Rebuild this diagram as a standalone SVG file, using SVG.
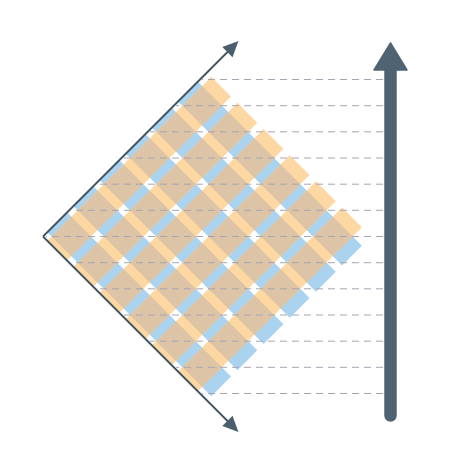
<svg xmlns="http://www.w3.org/2000/svg" width="474" height="474" viewBox="0 0 474 474">
<style>
.o{fill:#FDD8A2}
.b{fill:#AAD3F0}
.m{fill:#DDC4A6}
.d{stroke:#a6a6b2;stroke-width:1;stroke-dasharray:7 5;fill:none}
.ax{stroke:#3f5260;stroke-width:1.8;fill:none}
.big{fill:#4f6373}
</style>
<defs>
<marker id="ah" markerUnits="userSpaceOnUse" markerWidth="20" markerHeight="20" viewBox="-16 -8 18 16" refX="-5" refY="0" orient="auto">
<path d="M0,0 L-14,-6.5 L-14,6.5 Z" fill="#4a5e6d"/>
</marker>
</defs>
<rect width="474" height="474" fill="#ffffff"/>
<g id="lattice" transform="translate(43,236.5) rotate(-45)">
<g id="blue-strips">
<rect class="b" x="6" y="0" width="28" height="232"/>
<rect class="b" x="43" y="0" width="28" height="232"/>
<rect class="b" x="80" y="0" width="28" height="232"/>
<rect class="b" x="117" y="0" width="28" height="232"/>
<rect class="b" x="154" y="0" width="28" height="232"/>
<rect class="b" x="191" y="0" width="28" height="232"/>
</g>
<g id="orange-strips">
<rect class="o" x="0" y="6" width="232" height="28"/>
<rect class="o" x="0" y="43" width="232" height="28"/>
<rect class="o" x="0" y="80" width="232" height="28"/>
<rect class="o" x="0" y="117" width="232" height="28"/>
<rect class="o" x="0" y="154" width="232" height="28"/>
<rect class="o" x="0" y="191" width="232" height="28"/>
</g>
<g id="overlaps">
<rect class="m" x="6" y="6" width="28" height="28"/><rect class="m" x="43" y="6" width="28" height="28"/><rect class="m" x="80" y="6" width="28" height="28"/><rect class="m" x="117" y="6" width="28" height="28"/><rect class="m" x="154" y="6" width="28" height="28"/><rect class="m" x="191" y="6" width="28" height="28"/>
<rect class="m" x="6" y="43" width="28" height="28"/><rect class="m" x="43" y="43" width="28" height="28"/><rect class="m" x="80" y="43" width="28" height="28"/><rect class="m" x="117" y="43" width="28" height="28"/><rect class="m" x="154" y="43" width="28" height="28"/><rect class="m" x="191" y="43" width="28" height="28"/>
<rect class="m" x="6" y="80" width="28" height="28"/><rect class="m" x="43" y="80" width="28" height="28"/><rect class="m" x="80" y="80" width="28" height="28"/><rect class="m" x="117" y="80" width="28" height="28"/><rect class="m" x="154" y="80" width="28" height="28"/><rect class="m" x="191" y="80" width="28" height="28"/>
<rect class="m" x="6" y="117" width="28" height="28"/><rect class="m" x="43" y="117" width="28" height="28"/><rect class="m" x="80" y="117" width="28" height="28"/><rect class="m" x="117" y="117" width="28" height="28"/><rect class="m" x="154" y="117" width="28" height="28"/><rect class="m" x="191" y="117" width="28" height="28"/>
<rect class="m" x="6" y="154" width="28" height="28"/><rect class="m" x="43" y="154" width="28" height="28"/><rect class="m" x="80" y="154" width="28" height="28"/><rect class="m" x="117" y="154" width="28" height="28"/><rect class="m" x="154" y="154" width="28" height="28"/><rect class="m" x="191" y="154" width="28" height="28"/>
<rect class="m" x="6" y="191" width="28" height="28"/><rect class="m" x="43" y="191" width="28" height="28"/><rect class="m" x="80" y="191" width="28" height="28"/><rect class="m" x="117" y="191" width="28" height="28"/><rect class="m" x="154" y="191" width="28" height="28"/><rect class="m" x="191" y="191" width="28" height="28"/>
</g>
</g>
<g id="connectors">
<g id="time-slices">
<line class="d" x1="383" y1="79.5" x2="202" y2="79.5"/>
<line class="d" x1="383" y1="105.7" x2="176" y2="105.7"/>
<line class="d" x1="383" y1="131.8" x2="150" y2="131.8"/>
<line class="d" x1="383" y1="158" x2="124" y2="158"/>
<line class="d" x1="383" y1="184.2" x2="98" y2="184.2"/>
<line class="d" x1="383" y1="210.3" x2="72" y2="210.3"/>
<line class="d" x1="383" y1="236.5" x2="46" y2="236.5"/>
<line class="d" x1="383" y1="262.7" x2="72" y2="262.7"/>
<line class="d" x1="383" y1="288.8" x2="98" y2="288.8"/>
<line class="d" x1="383" y1="315" x2="124" y2="315"/>
<line class="d" x1="383" y1="341.2" x2="150" y2="341.2"/>
<line class="d" x1="383" y1="367.3" x2="176" y2="367.3"/>
<line class="d" x1="383" y1="393.5" x2="202" y2="393.5"/>
</g>
<line id="axis-up" class="ax" x1="43" y1="236.5" x2="234.5" y2="45" marker-end="url(#ah)"/>
<line id="axis-down" class="ax" x1="43" y1="236.5" x2="234.5" y2="428" marker-end="url(#ah)"/>
</g>
<g id="time-arrow">
<line x1="390.5" y1="68" x2="390.5" y2="415.5" stroke="#4f6373" stroke-width="12.5" stroke-linecap="round"/>
<polygon class="big" points="390.5,43 374,70 407,70" stroke="#4f6373" stroke-width="1.5" stroke-linejoin="round"/>
</g>
</svg>
